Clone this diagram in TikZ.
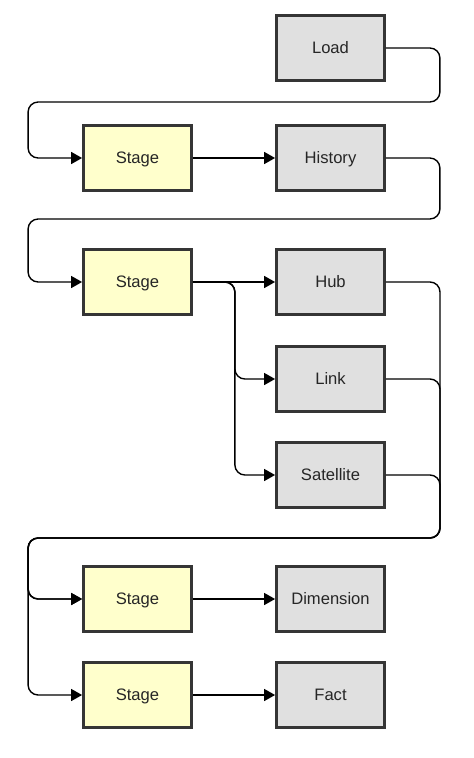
\documentclass[tikz,border=0pt]{standalone}
\usepackage{fontspec}
\setmainfont{Liberation Sans}
\usepackage{tikz}
\usetikzlibrary{arrows.meta, positioning, calc}

\definecolor{stagefill}{HTML}{FFFFCC}
\definecolor{tablefill}{HTML}{E0E0E0}
\definecolor{boxline}{HTML}{353535}

\begin{document}
\begin{tikzpicture}[x=1pt, y=-1pt,
  box/.style={draw=boxline, line width=2.8pt, minimum width=108pt, minimum height=65pt, align=center, text height=11.8pt, text depth=0pt, font=\fontsize{16.6}{19}\selectfont, text=black!85},
  stagebox/.style={box, fill=stagefill},
  tablebox/.style={box, fill=tablefill},
  arrow/.style={-{Triangle[length=11pt, width=12pt]}, line width=1.4pt, rounded corners=10pt}
]
\useasboundingbox (0,0) rectangle (474,758);

% Row 1: Load
\node[tablebox] (load)      at (330.5, 48)  {Load};

% Row 2: Stage + History
\node[stagebox] (stagea)    at (137.5,158)  {Stage};
\node[tablebox] (history)   at (330.5,158)  {History};

% Row 3: Stage + Hub, Link, Satellite
\node[stagebox] (stageb)    at (137.5,282)  {Stage};
\node[tablebox] (hub)       at (330.5,282)  {Hub};
\node[tablebox] (link)      at (330.5,379)  {Link};
\node[tablebox] (satellite) at (330.5,475)  {Satellite};

% Row 4: Stage + Dimension, Stage + Fact
\node[stagebox] (stagec)    at (137.5,599)  {Stage};
\node[tablebox] (dimension) at (330.5,599)  {Dimension};
\node[stagebox] (staged)    at (137.5,695)  {Stage};
\node[tablebox] (fact)      at (330.5,695)  {Fact};

% bus corner
\coordinate (busr) at (440,538);

% Load -> Stage
\draw[arrow] (load.east) -| ++(54,54) -| ([xshift=-54pt]stagea.west) -- (stagea.west);
\draw[arrow] (stagea) -- (history);

% History -> Stage
\draw[arrow] (history.east) -| ++(54,61) -| ([xshift=-54pt]stageb.west) -- (stageb.west);

% Stage -> Hub, Link, Satellite
\draw[arrow] (stageb) -- (hub);
\draw[arrow] (stageb.east) -- ++(42,0) |- (link.west);
\draw[arrow] (stageb.east) -- ++(42,0) |- (satellite.west);

% Hub, Link, Satellite -> Stage
\draw[arrow] (hub.east) -| (busr) -| ([xshift=-54pt]stagec.west) -- (stagec.west);
\draw[arrow] (link.east) -| (busr) -| ([xshift=-54pt]staged.west) -- (staged.west);
\draw[arrow] (satellite.east) -| (busr) -| ([xshift=-54pt]stagec.west) -- (stagec.west);

% Stage -> Dimension, Fact
\draw[arrow] (stagec) -- (dimension);
\draw[arrow] (staged) -- (fact);

\end{tikzpicture}
\end{document}
